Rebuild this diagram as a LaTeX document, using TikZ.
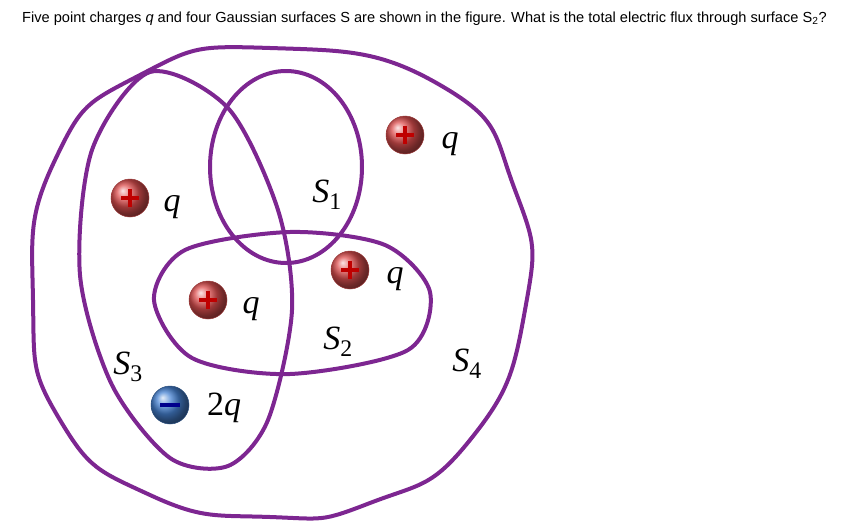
\documentclass[tikz,border=0pt]{standalone}
\usepackage{fontspec}
\setmainfont{Liberation Serif}
\newfontfamily\hdr{Liberation Sans}
\definecolor{surfc}{RGB}{125,38,145}
\definecolor{redc}{RGB}{222,80,80}
\definecolor{bluec}{RGB}{70,130,210}
\begin{document}
\begin{tikzpicture}[x=1pt,y=-1pt,
  surf/.style={draw=surfc, line width=4pt, line join=round},
  poschg/.style={circle, minimum size=38pt, inner sep=0pt, ball color=redc, draw=redc!70!black, line width=0.5pt},
  negchg/.style={circle, minimum size=38pt, inner sep=0pt, ball color=bluec, draw=bluec!60!black, line width=0.5pt},
  lab/.style={font=\fontsize{34}{38}\selectfont\itshape, inner sep=0pt}]
\useasboundingbox (0,0) rectangle (841,530);
\node[anchor=west, font=\hdr\fontsize{14.6}{17}\selectfont, inner sep=0pt] (title) at (22,19)
 {Five point charges \textit{q} and four Gaussian surfaces S are shown in the figure. What is the total electric flux through surface S\textsubscript{2}?};
% S4
\draw[surf] plot[smooth cycle, tension=0.9] coordinates {(270,48) (440,85) (515,190) (525,310) (470,440) (370,503) (270,517) (150,495) (60,420) (33,300) (55,160) (140,75)};
% S3
\draw[surf] plot[smooth cycle] coordinates {(150,72) (228,108) (278,210) (292,310) (268,420) (228,466) (170,458) (112,385) (80,275) (92,150)};
% S1
\draw[surf] (286,167) ellipse [x radius=76, y radius=96];
% S2
\draw[surf] plot[smooth cycle] coordinates {(154,300) (185,250) (290,232) (385,245) (430,292) (408,350) (290,374) (192,358)};
% charges
\foreach \n/\x/\y in {a/130/198, b/208/300, c/350/270, d/405/135}{
  \node[poschg] (\n) at (\x,\y) {};
  \draw[red!75!black, line width=3.5pt] (\n.center) ++(-9,0) -- ++(18,0) (\n.center) ++(0,-9) -- ++(0,18);
}
\node[negchg] (e) at (170,405) {};
\draw[blue!55!black, line width=3.5pt] (e.center) ++(-10,0) -- ++(20,0);
\node[lab] (qa) at (172,207) {q};
\node[lab] (qb) at (251,309) {q};
\node[lab] (qc) at (395,279) {q};
\node[lab] (qd) at (450,144) {q};
\node[lab, font=\fontsize{34}{38}\selectfont] (qe) at (224,408) {2\textit{q}};
\node[lab] (s1) at (327,195) {S\textsubscript{\upshape 1}};
\node[lab] (s2) at (338,342) {S\textsubscript{\upshape 2}};
\node[lab] (s3) at (128,367) {S\textsubscript{\upshape 3}};
\node[lab] (s4) at (467,364) {S\textsubscript{\upshape 4}};
\end{tikzpicture}
\end{document}
